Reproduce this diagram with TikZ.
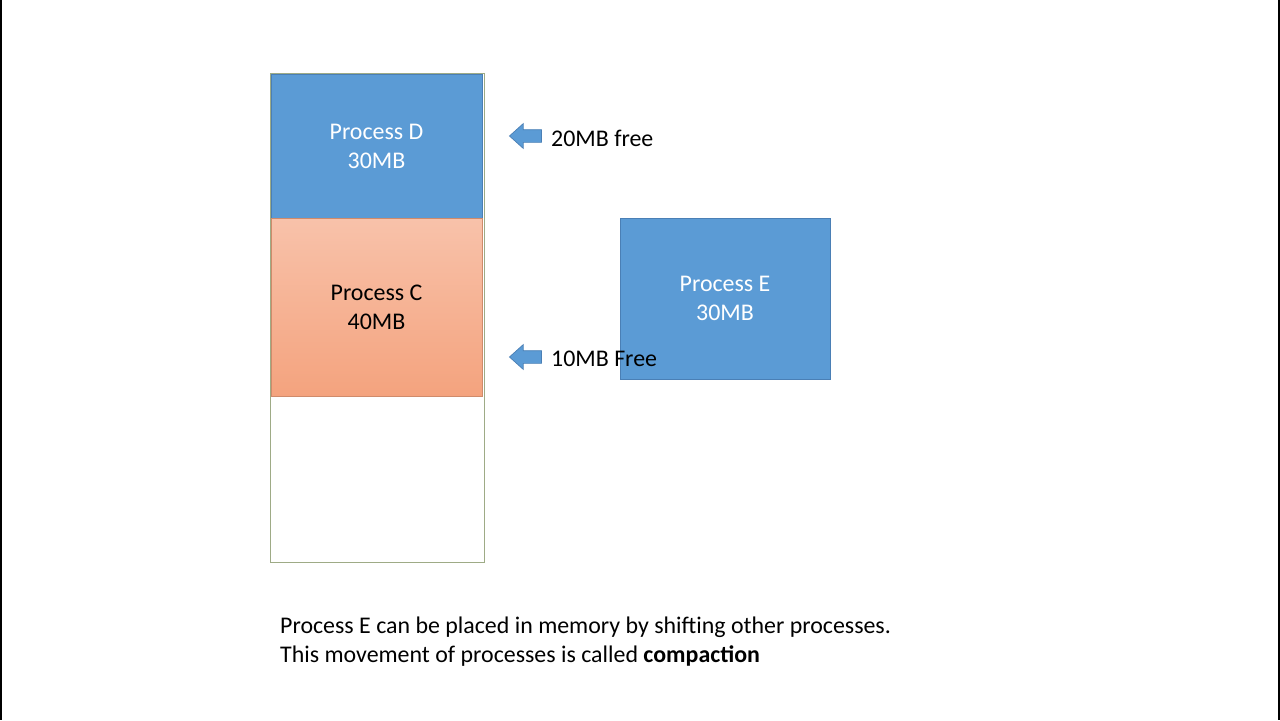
\documentclass[tikz,border=0pt]{standalone}
\usepackage{fontspec}
\setmainfont{Carlito}
\usepackage{tikz}
\usetikzlibrary{arrows, shapes.arrows}
\definecolor{procblue}{HTML}{5B9BD5}
\definecolor{procline}{HTML}{4A7FB5}
\definecolor{ctop}{HTML}{F8C2AA}
\definecolor{cbot}{HTML}{F4A37E}
\definecolor{memline}{HTML}{9EAB86}

\begin{document}
\begin{tikzpicture}[x=0.02cm, y=-0.02cm,
  every node/.style={font=\fontsize{13.6}{16.4}\selectfont},
  procbox/.style={draw=procline, fill=procblue, text=white, align=center, inner sep=0pt},
  freearrow/.style={single arrow, shape border rotate=180, draw=procline, fill=procblue,
    minimum height=0.64cm, inner sep=0pt, inner ysep=0.12cm, text width=0pt,
    single arrow head extend=0.12cm, single arrow tip angle=84}]
\useasboundingbox (0,0) rectangle (1280,720);
\fill[white] (0,0) rectangle (1280,720);
\fill[black] (0,0) rectangle (2,720);
\fill[black] (1278,0) rectangle (1280,720);
%
\node(mem) at (377,317.5) [draw=memline, minimum width=4.28cm, minimum height=9.78cm] {};
\node(procD) at (376.5,146.5) [procbox, minimum width=4.22cm, minimum height=2.9cm] {Process D\\30MB};
\node(procC) at (376.5,307) [draw=cbot!85!black, top color=ctop, bottom color=cbot, align=center,
  minimum width=4.22cm, minimum height=3.56cm] {Process C\\40MB};
\node(procE) at (725,298.5) [procbox, minimum width=4.2cm, minimum height=3.22cm] {Process E\\30MB};
%
\node(arrD) at (529,136) [freearrow] {};
\node(freeD) at (545,138) [anchor=west] {20MB free};
\node(arrC) at (529,357) [freearrow] {};
\node(freeC) at (545,359) [anchor=west] {10MB Free};
%
\node(note) at (274,641.5) [anchor=west, align=left] {Process E can be placed in memory by shifting other processes.\\This movement of processes is called \textbf{compaction}};
\end{tikzpicture}
\end{document}
